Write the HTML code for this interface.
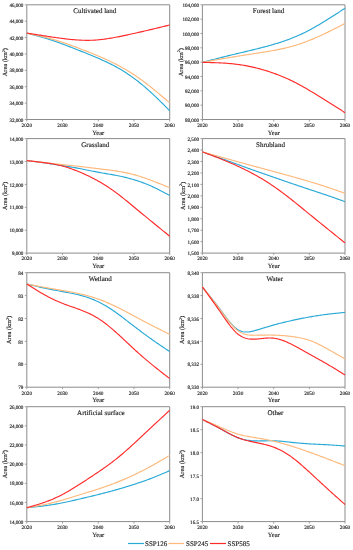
<!DOCTYPE html><html><head><meta charset="utf-8"><style>html,body{margin:0;padding:0;background:#fff;width:353px;height:550px;overflow:hidden}svg{display:block;filter:blur(0.35px)}</style></head><body>
<svg width="353" height="550" viewBox="0 0 353 550" stroke-linejoin="round" font-family='"Liberation Serif", serif'>
<rect width="353" height="550" fill="#fff"/>
<style>text{stroke:#222;stroke-width:0.15px;paint-order:stroke;text-rendering:geometricPrecision}</style>
<g style="will-change:transform">
<rect x="26.80" y="4.80" width="142.90" height="114.70" fill="none" stroke="#8c8c8c" stroke-width="1"/>
<line x1="24.80" y1="4.80" x2="26.80" y2="4.80" stroke="#8c8c8c" stroke-width="0.8"/>
<text x="23.40" y="6.90" font-size="5.1" text-anchor="end" fill="#222">46,000</text>
<line x1="24.80" y1="21.19" x2="26.80" y2="21.19" stroke="#8c8c8c" stroke-width="0.8"/>
<text x="23.40" y="23.29" font-size="5.1" text-anchor="end" fill="#222">44,000</text>
<line x1="24.80" y1="37.57" x2="26.80" y2="37.57" stroke="#8c8c8c" stroke-width="0.8"/>
<text x="23.40" y="39.67" font-size="5.1" text-anchor="end" fill="#222">42,000</text>
<line x1="24.80" y1="53.96" x2="26.80" y2="53.96" stroke="#8c8c8c" stroke-width="0.8"/>
<text x="23.40" y="56.06" font-size="5.1" text-anchor="end" fill="#222">40,000</text>
<line x1="24.80" y1="70.34" x2="26.80" y2="70.34" stroke="#8c8c8c" stroke-width="0.8"/>
<text x="23.40" y="72.44" font-size="5.1" text-anchor="end" fill="#222">38,000</text>
<line x1="24.80" y1="86.73" x2="26.80" y2="86.73" stroke="#8c8c8c" stroke-width="0.8"/>
<text x="23.40" y="88.83" font-size="5.1" text-anchor="end" fill="#222">36,000</text>
<line x1="24.80" y1="103.11" x2="26.80" y2="103.11" stroke="#8c8c8c" stroke-width="0.8"/>
<text x="23.40" y="105.21" font-size="5.1" text-anchor="end" fill="#222">34,000</text>
<line x1="24.80" y1="119.50" x2="26.80" y2="119.50" stroke="#8c8c8c" stroke-width="0.8"/>
<text x="23.40" y="121.60" font-size="5.1" text-anchor="end" fill="#222">32,000</text>
<line x1="26.80" y1="119.50" x2="26.80" y2="121.50" stroke="#8c8c8c" stroke-width="0.8"/>
<text x="26.80" y="126.80" font-size="5.2" text-anchor="middle" fill="#222">2020</text>
<line x1="62.52" y1="119.50" x2="62.52" y2="121.50" stroke="#8c8c8c" stroke-width="0.8"/>
<text x="62.52" y="126.80" font-size="5.2" text-anchor="middle" fill="#222">2030</text>
<line x1="98.25" y1="119.50" x2="98.25" y2="121.50" stroke="#8c8c8c" stroke-width="0.8"/>
<text x="98.25" y="126.80" font-size="5.2" text-anchor="middle" fill="#222">2040</text>
<line x1="133.97" y1="119.50" x2="133.97" y2="121.50" stroke="#8c8c8c" stroke-width="0.8"/>
<text x="133.97" y="126.80" font-size="5.2" text-anchor="middle" fill="#222">2050</text>
<line x1="169.70" y1="119.50" x2="169.70" y2="121.50" stroke="#8c8c8c" stroke-width="0.8"/>
<text x="169.70" y="126.80" font-size="5.2" text-anchor="middle" fill="#222">2060</text>
<text x="98.25" y="134.50" font-size="6.5" text-anchor="middle" fill="#222">Year</text>
<text transform="translate(7.20,62.15) rotate(-90)" font-size="6.3" text-anchor="middle" fill="#222">Area (km<tspan font-size="4" dy="-2.2">2</tspan><tspan dy="2.2">)</tspan></text>
<text x="94.75" y="12.90" font-size="7" text-anchor="middle" fill="#222">Cultivated land</text>
<path d="M26.80,33.08 L28.00,33.40 L29.20,33.71 L30.40,34.03 L31.60,34.35 L32.80,34.67 L34.01,34.99 L35.21,35.31 L36.41,35.64 L37.61,35.97 L38.81,36.30 L40.01,36.64 L41.21,36.98 L42.41,37.33 L43.61,37.68 L44.81,38.04 L46.01,38.41 L47.21,38.78 L48.42,39.16 L49.62,39.54 L50.82,39.93 L52.02,40.32 L53.22,40.72 L54.42,41.13 L55.62,41.54 L56.82,41.95 L58.02,42.37 L59.22,42.80 L60.42,43.23 L61.62,43.67 L62.83,44.11 L64.03,44.55 L65.23,45.00 L66.43,45.46 L67.63,45.92 L68.83,46.38 L70.03,46.84 L71.23,47.31 L72.43,47.78 L73.63,48.25 L74.83,48.73 L76.03,49.21 L77.24,49.68 L78.44,50.16 L79.64,50.64 L80.84,51.13 L82.04,51.61 L83.24,52.09 L84.44,52.57 L85.64,53.06 L86.84,53.55 L88.04,54.03 L89.24,54.52 L90.44,55.02 L91.65,55.51 L92.85,56.01 L94.05,56.51 L95.25,57.02 L96.45,57.53 L97.65,58.04 L98.85,58.56 L100.05,59.08 L101.25,59.61 L102.45,60.15 L103.65,60.69 L104.85,61.23 L106.06,61.79 L107.26,62.36 L108.46,62.93 L109.66,63.52 L110.86,64.11 L112.06,64.72 L113.26,65.34 L114.46,65.97 L115.66,66.62 L116.86,67.28 L118.06,67.96 L119.26,68.65 L120.47,69.35 L121.67,70.07 L122.87,70.81 L124.07,71.56 L125.27,72.32 L126.47,73.10 L127.67,73.90 L128.87,74.71 L130.07,75.53 L131.27,76.38 L132.47,77.23 L133.67,78.11 L134.88,79.00 L136.08,79.90 L137.28,80.82 L138.48,81.76 L139.68,82.71 L140.88,83.68 L142.08,84.67 L143.28,85.66 L144.48,86.68 L145.68,87.71 L146.88,88.75 L148.08,89.81 L149.29,90.88 L150.49,91.97 L151.69,93.07 L152.89,94.18 L154.09,95.31 L155.29,96.45 L156.49,97.60 L157.69,98.76 L158.89,99.93 L160.09,101.11 L161.29,102.30 L162.49,103.49 L163.70,104.69 L164.90,105.90 L166.10,107.11 L167.30,108.32 L168.50,109.53 L169.70,110.74" fill="none" stroke="#29a9d6" stroke-width="1.15" stroke-linejoin="round" stroke-linecap="butt"/>
<path d="M26.80,33.08 L28.00,33.34 L29.20,33.59 L30.40,33.85 L31.60,34.11 L32.80,34.37 L34.01,34.64 L35.21,34.90 L36.41,35.17 L37.61,35.44 L38.81,35.72 L40.01,35.99 L41.21,36.28 L42.41,36.57 L43.61,36.86 L44.81,37.16 L46.01,37.46 L47.21,37.77 L48.42,38.09 L49.62,38.41 L50.82,38.74 L52.02,39.08 L53.22,39.42 L54.42,39.77 L55.62,40.12 L56.82,40.48 L58.02,40.85 L59.22,41.23 L60.42,41.61 L61.62,42.00 L62.83,42.39 L64.03,42.80 L65.23,43.21 L66.43,43.62 L67.63,44.04 L68.83,44.47 L70.03,44.90 L71.23,45.34 L72.43,45.78 L73.63,46.23 L74.83,46.68 L76.03,47.14 L77.24,47.59 L78.44,48.05 L79.64,48.52 L80.84,48.98 L82.04,49.45 L83.24,49.92 L84.44,50.40 L85.64,50.87 L86.84,51.35 L88.04,51.83 L89.24,52.31 L90.44,52.80 L91.65,53.29 L92.85,53.78 L94.05,54.28 L95.25,54.77 L96.45,55.27 L97.65,55.78 L98.85,56.29 L100.05,56.80 L101.25,57.31 L102.45,57.83 L103.65,58.36 L104.85,58.89 L106.06,59.42 L107.26,59.97 L108.46,60.52 L109.66,61.08 L110.86,61.65 L112.06,62.22 L113.26,62.81 L114.46,63.40 L115.66,64.01 L116.86,64.63 L118.06,65.26 L119.26,65.90 L120.47,66.55 L121.67,67.22 L122.87,67.89 L124.07,68.58 L125.27,69.28 L126.47,70.00 L127.67,70.72 L128.87,71.46 L130.07,72.21 L131.27,72.97 L132.47,73.74 L133.67,74.53 L134.88,75.33 L136.08,76.15 L137.28,76.97 L138.48,77.81 L139.68,78.66 L140.88,79.52 L142.08,80.39 L143.28,81.28 L144.48,82.17 L145.68,83.08 L146.88,84.00 L148.08,84.93 L149.29,85.86 L150.49,86.81 L151.69,87.77 L152.89,88.73 L154.09,89.71 L155.29,90.69 L156.49,91.68 L157.69,92.68 L158.89,93.68 L160.09,94.69 L161.29,95.71 L162.49,96.73 L163.70,97.75 L164.90,98.77 L166.10,99.80 L167.30,100.83 L168.50,101.86 L169.70,102.90" fill="none" stroke="#fdb97c" stroke-width="1.15" stroke-linejoin="round" stroke-linecap="butt"/>
<path d="M26.80,33.10 L28.00,33.29 L29.20,33.48 L30.40,33.67 L31.60,33.86 L32.80,34.05 L34.01,34.24 L35.21,34.43 L36.41,34.61 L37.61,34.80 L38.81,34.99 L40.01,35.18 L41.21,35.37 L42.41,35.55 L43.61,35.74 L44.81,35.92 L46.01,36.11 L47.21,36.30 L48.42,36.48 L49.62,36.66 L50.82,36.84 L52.02,37.02 L53.22,37.20 L54.42,37.38 L55.62,37.55 L56.82,37.72 L58.02,37.89 L59.22,38.05 L60.42,38.21 L61.62,38.37 L62.83,38.52 L64.03,38.67 L65.23,38.82 L66.43,38.96 L67.63,39.09 L68.83,39.23 L70.03,39.35 L71.23,39.47 L72.43,39.58 L73.63,39.69 L74.83,39.79 L76.03,39.88 L77.24,39.96 L78.44,40.04 L79.64,40.10 L80.84,40.16 L82.04,40.21 L83.24,40.25 L84.44,40.29 L85.64,40.31 L86.84,40.32 L88.04,40.32 L89.24,40.31 L90.44,40.29 L91.65,40.25 L92.85,40.21 L94.05,40.15 L95.25,40.08 L96.45,39.99 L97.65,39.90 L98.85,39.79 L100.05,39.67 L101.25,39.54 L102.45,39.40 L103.65,39.25 L104.85,39.09 L106.06,38.92 L107.26,38.74 L108.46,38.55 L109.66,38.36 L110.86,38.16 L112.06,37.95 L113.26,37.73 L114.46,37.51 L115.66,37.29 L116.86,37.06 L118.06,36.82 L119.26,36.58 L120.47,36.34 L121.67,36.10 L122.87,35.85 L124.07,35.60 L125.27,35.34 L126.47,35.08 L127.67,34.82 L128.87,34.56 L130.07,34.30 L131.27,34.03 L132.47,33.77 L133.67,33.50 L134.88,33.23 L136.08,32.96 L137.28,32.69 L138.48,32.42 L139.68,32.14 L140.88,31.87 L142.08,31.59 L143.28,31.32 L144.48,31.04 L145.68,30.76 L146.88,30.48 L148.08,30.20 L149.29,29.92 L150.49,29.64 L151.69,29.36 L152.89,29.07 L154.09,28.78 L155.29,28.50 L156.49,28.21 L157.69,27.92 L158.89,27.63 L160.09,27.34 L161.29,27.05 L162.49,26.76 L163.70,26.47 L164.90,26.18 L166.10,25.89 L167.30,25.60 L168.50,25.30 L169.70,25.01" fill="none" stroke="#ff2b2b" stroke-width="1.15" stroke-linejoin="round" stroke-linecap="butt"/>
<rect x="202.40" y="4.80" width="142.60" height="114.70" fill="none" stroke="#8c8c8c" stroke-width="1"/>
<line x1="200.40" y1="4.80" x2="202.40" y2="4.80" stroke="#8c8c8c" stroke-width="0.8"/>
<text x="199.00" y="6.90" font-size="5.1" text-anchor="end" fill="#222">104,000</text>
<line x1="200.40" y1="19.14" x2="202.40" y2="19.14" stroke="#8c8c8c" stroke-width="0.8"/>
<text x="199.00" y="21.24" font-size="5.1" text-anchor="end" fill="#222">102,000</text>
<line x1="200.40" y1="33.48" x2="202.40" y2="33.48" stroke="#8c8c8c" stroke-width="0.8"/>
<text x="199.00" y="35.58" font-size="5.1" text-anchor="end" fill="#222">100,000</text>
<line x1="200.40" y1="47.81" x2="202.40" y2="47.81" stroke="#8c8c8c" stroke-width="0.8"/>
<text x="199.00" y="49.91" font-size="5.1" text-anchor="end" fill="#222">98,000</text>
<line x1="200.40" y1="62.15" x2="202.40" y2="62.15" stroke="#8c8c8c" stroke-width="0.8"/>
<text x="199.00" y="64.25" font-size="5.1" text-anchor="end" fill="#222">96,000</text>
<line x1="200.40" y1="76.49" x2="202.40" y2="76.49" stroke="#8c8c8c" stroke-width="0.8"/>
<text x="199.00" y="78.59" font-size="5.1" text-anchor="end" fill="#222">94,000</text>
<line x1="200.40" y1="90.83" x2="202.40" y2="90.83" stroke="#8c8c8c" stroke-width="0.8"/>
<text x="199.00" y="92.92" font-size="5.1" text-anchor="end" fill="#222">92,000</text>
<line x1="200.40" y1="105.16" x2="202.40" y2="105.16" stroke="#8c8c8c" stroke-width="0.8"/>
<text x="199.00" y="107.26" font-size="5.1" text-anchor="end" fill="#222">90,000</text>
<line x1="200.40" y1="119.50" x2="202.40" y2="119.50" stroke="#8c8c8c" stroke-width="0.8"/>
<text x="199.00" y="121.60" font-size="5.1" text-anchor="end" fill="#222">88,000</text>
<line x1="202.40" y1="119.50" x2="202.40" y2="121.50" stroke="#8c8c8c" stroke-width="0.8"/>
<text x="202.40" y="126.80" font-size="5.2" text-anchor="middle" fill="#222">2020</text>
<line x1="238.05" y1="119.50" x2="238.05" y2="121.50" stroke="#8c8c8c" stroke-width="0.8"/>
<text x="238.05" y="126.80" font-size="5.2" text-anchor="middle" fill="#222">2030</text>
<line x1="273.70" y1="119.50" x2="273.70" y2="121.50" stroke="#8c8c8c" stroke-width="0.8"/>
<text x="273.70" y="126.80" font-size="5.2" text-anchor="middle" fill="#222">2040</text>
<line x1="309.35" y1="119.50" x2="309.35" y2="121.50" stroke="#8c8c8c" stroke-width="0.8"/>
<text x="309.35" y="126.80" font-size="5.2" text-anchor="middle" fill="#222">2050</text>
<line x1="345.00" y1="119.50" x2="345.00" y2="121.50" stroke="#8c8c8c" stroke-width="0.8"/>
<text x="345.00" y="126.80" font-size="5.2" text-anchor="middle" fill="#222">2060</text>
<text x="273.70" y="134.50" font-size="6.5" text-anchor="middle" fill="#222">Year</text>
<text transform="translate(182.50,62.15) rotate(-90)" font-size="6.3" text-anchor="middle" fill="#222">Area (km<tspan font-size="4" dy="-2.2">2</tspan><tspan dy="2.2">)</tspan></text>
<text x="268.50" y="12.90" font-size="7" text-anchor="middle" fill="#222">Forest land</text>
<path d="M202.40,62.39 L203.60,62.08 L204.80,61.76 L205.99,61.44 L207.19,61.13 L208.39,60.81 L209.59,60.50 L210.79,60.18 L211.99,59.87 L213.18,59.56 L214.38,59.25 L215.58,58.94 L216.78,58.63 L217.98,58.32 L219.18,58.02 L220.37,57.71 L221.57,57.41 L222.77,57.11 L223.97,56.82 L225.17,56.52 L226.37,56.23 L227.56,55.93 L228.76,55.64 L229.96,55.35 L231.16,55.06 L232.36,54.77 L233.56,54.48 L234.75,54.20 L235.95,53.91 L237.15,53.62 L238.35,53.34 L239.55,53.05 L240.75,52.77 L241.94,52.48 L243.14,52.19 L244.34,51.91 L245.54,51.62 L246.74,51.33 L247.94,51.04 L249.13,50.75 L250.33,50.46 L251.53,50.17 L252.73,49.88 L253.93,49.58 L255.13,49.29 L256.32,48.99 L257.52,48.69 L258.72,48.39 L259.92,48.08 L261.12,47.78 L262.32,47.47 L263.51,47.16 L264.71,46.84 L265.91,46.52 L267.11,46.20 L268.31,45.87 L269.51,45.54 L270.70,45.21 L271.90,44.87 L273.10,44.52 L274.30,44.17 L275.50,43.82 L276.70,43.45 L277.89,43.09 L279.09,42.71 L280.29,42.33 L281.49,41.94 L282.69,41.55 L283.89,41.14 L285.08,40.73 L286.28,40.31 L287.48,39.88 L288.68,39.44 L289.88,38.99 L291.08,38.53 L292.27,38.06 L293.47,37.57 L294.67,37.08 L295.87,36.58 L297.07,36.06 L298.27,35.54 L299.46,35.00 L300.66,34.45 L301.86,33.89 L303.06,33.32 L304.26,32.74 L305.46,32.15 L306.65,31.54 L307.85,30.93 L309.05,30.30 L310.25,29.66 L311.45,29.01 L312.65,28.35 L313.84,27.68 L315.04,27.01 L316.24,26.32 L317.44,25.62 L318.64,24.92 L319.84,24.20 L321.03,23.49 L322.23,22.76 L323.43,22.03 L324.63,21.29 L325.83,20.55 L327.03,19.80 L328.22,19.05 L329.42,18.29 L330.62,17.53 L331.82,16.77 L333.02,16.01 L334.22,15.24 L335.41,14.47 L336.61,13.69 L337.81,12.92 L339.01,12.14 L340.21,11.37 L341.41,10.59 L342.60,9.81 L343.80,9.03 L345.00,8.25" fill="none" stroke="#29a9d6" stroke-width="1.15" stroke-linejoin="round" stroke-linecap="butt"/>
<path d="M202.40,62.39 L203.60,62.17 L204.80,61.95 L205.99,61.73 L207.19,61.50 L208.39,61.28 L209.59,61.06 L210.79,60.84 L211.99,60.62 L213.18,60.40 L214.38,60.18 L215.58,59.96 L216.78,59.75 L217.98,59.53 L219.18,59.32 L220.37,59.11 L221.57,58.90 L222.77,58.69 L223.97,58.48 L225.17,58.27 L226.37,58.07 L227.56,57.86 L228.76,57.66 L229.96,57.46 L231.16,57.26 L232.36,57.06 L233.56,56.87 L234.75,56.67 L235.95,56.47 L237.15,56.28 L238.35,56.09 L239.55,55.90 L240.75,55.71 L241.94,55.52 L243.14,55.33 L244.34,55.14 L245.54,54.95 L246.74,54.76 L247.94,54.58 L249.13,54.39 L250.33,54.20 L251.53,54.02 L252.73,53.83 L253.93,53.65 L255.13,53.46 L256.32,53.28 L257.52,53.09 L258.72,52.91 L259.92,52.72 L261.12,52.54 L262.32,52.35 L263.51,52.16 L264.71,51.97 L265.91,51.77 L267.11,51.57 L268.31,51.37 L269.51,51.17 L270.70,50.96 L271.90,50.75 L273.10,50.54 L274.30,50.32 L275.50,50.09 L276.70,49.86 L277.89,49.63 L279.09,49.38 L280.29,49.14 L281.49,48.88 L282.69,48.62 L283.89,48.35 L285.08,48.07 L286.28,47.79 L287.48,47.49 L288.68,47.19 L289.88,46.88 L291.08,46.56 L292.27,46.23 L293.47,45.89 L294.67,45.54 L295.87,45.18 L297.07,44.81 L298.27,44.43 L299.46,44.04 L300.66,43.64 L301.86,43.23 L303.06,42.81 L304.26,42.38 L305.46,41.94 L306.65,41.50 L307.85,41.04 L309.05,40.57 L310.25,40.09 L311.45,39.61 L312.65,39.11 L313.84,38.60 L315.04,38.09 L316.24,37.57 L317.44,37.04 L318.64,36.50 L319.84,35.96 L321.03,35.41 L322.23,34.85 L323.43,34.29 L324.63,33.72 L325.83,33.14 L327.03,32.56 L328.22,31.98 L329.42,31.39 L330.62,30.80 L331.82,30.20 L333.02,29.60 L334.22,28.99 L335.41,28.38 L336.61,27.77 L337.81,27.16 L339.01,26.55 L340.21,25.93 L341.41,25.31 L342.60,24.69 L343.80,24.07 L345.00,23.45" fill="none" stroke="#fdb97c" stroke-width="1.15" stroke-linejoin="round" stroke-linecap="butt"/>
<path d="M202.40,62.38 L203.60,62.41 L204.80,62.43 L205.99,62.45 L207.19,62.48 L208.39,62.50 L209.59,62.53 L210.79,62.56 L211.99,62.59 L213.18,62.62 L214.38,62.66 L215.58,62.70 L216.78,62.75 L217.98,62.80 L219.18,62.85 L220.37,62.91 L221.57,62.97 L222.77,63.04 L223.97,63.11 L225.17,63.19 L226.37,63.28 L227.56,63.37 L228.76,63.47 L229.96,63.57 L231.16,63.68 L232.36,63.80 L233.56,63.93 L234.75,64.06 L235.95,64.21 L237.15,64.36 L238.35,64.52 L239.55,64.68 L240.75,64.86 L241.94,65.04 L243.14,65.24 L244.34,65.44 L245.54,65.65 L246.74,65.87 L247.94,66.10 L249.13,66.34 L250.33,66.59 L251.53,66.85 L252.73,67.11 L253.93,67.39 L255.13,67.67 L256.32,67.97 L257.52,68.27 L258.72,68.58 L259.92,68.91 L261.12,69.24 L262.32,69.58 L263.51,69.93 L264.71,70.29 L265.91,70.66 L267.11,71.03 L268.31,71.42 L269.51,71.81 L270.70,72.21 L271.90,72.62 L273.10,73.04 L274.30,73.47 L275.50,73.91 L276.70,74.35 L277.89,74.80 L279.09,75.26 L280.29,75.73 L281.49,76.21 L282.69,76.71 L283.89,77.21 L285.08,77.72 L286.28,78.24 L287.48,78.78 L288.68,79.32 L289.88,79.88 L291.08,80.45 L292.27,81.03 L293.47,81.63 L294.67,82.23 L295.87,82.85 L297.07,83.48 L298.27,84.12 L299.46,84.76 L300.66,85.42 L301.86,86.08 L303.06,86.76 L304.26,87.43 L305.46,88.12 L306.65,88.81 L307.85,89.51 L309.05,90.21 L310.25,90.92 L311.45,91.63 L312.65,92.34 L313.84,93.06 L315.04,93.78 L316.24,94.50 L317.44,95.23 L318.64,95.96 L319.84,96.70 L321.03,97.44 L322.23,98.18 L323.43,98.92 L324.63,99.67 L325.83,100.42 L327.03,101.17 L328.22,101.93 L329.42,102.68 L330.62,103.44 L331.82,104.21 L333.02,104.97 L334.22,105.74 L335.41,106.50 L336.61,107.27 L337.81,108.04 L339.01,108.81 L340.21,109.58 L341.41,110.35 L342.60,111.13 L343.80,111.90 L345.00,112.67" fill="none" stroke="#ff2b2b" stroke-width="1.15" stroke-linejoin="round" stroke-linecap="butt"/>
<rect x="26.80" y="138.60" width="142.90" height="114.50" fill="none" stroke="#8c8c8c" stroke-width="1"/>
<line x1="24.80" y1="138.60" x2="26.80" y2="138.60" stroke="#8c8c8c" stroke-width="0.8"/>
<text x="23.40" y="140.70" font-size="5.1" text-anchor="end" fill="#222">14,000</text>
<line x1="24.80" y1="161.50" x2="26.80" y2="161.50" stroke="#8c8c8c" stroke-width="0.8"/>
<text x="23.40" y="163.60" font-size="5.1" text-anchor="end" fill="#222">13,000</text>
<line x1="24.80" y1="184.40" x2="26.80" y2="184.40" stroke="#8c8c8c" stroke-width="0.8"/>
<text x="23.40" y="186.50" font-size="5.1" text-anchor="end" fill="#222">12,000</text>
<line x1="24.80" y1="207.30" x2="26.80" y2="207.30" stroke="#8c8c8c" stroke-width="0.8"/>
<text x="23.40" y="209.40" font-size="5.1" text-anchor="end" fill="#222">11,000</text>
<line x1="24.80" y1="230.20" x2="26.80" y2="230.20" stroke="#8c8c8c" stroke-width="0.8"/>
<text x="23.40" y="232.30" font-size="5.1" text-anchor="end" fill="#222">10,000</text>
<line x1="24.80" y1="253.10" x2="26.80" y2="253.10" stroke="#8c8c8c" stroke-width="0.8"/>
<text x="23.40" y="255.20" font-size="5.1" text-anchor="end" fill="#222">9,000</text>
<line x1="26.80" y1="253.10" x2="26.80" y2="255.10" stroke="#8c8c8c" stroke-width="0.8"/>
<text x="26.80" y="260.40" font-size="5.2" text-anchor="middle" fill="#222">2020</text>
<line x1="62.52" y1="253.10" x2="62.52" y2="255.10" stroke="#8c8c8c" stroke-width="0.8"/>
<text x="62.52" y="260.40" font-size="5.2" text-anchor="middle" fill="#222">2030</text>
<line x1="98.25" y1="253.10" x2="98.25" y2="255.10" stroke="#8c8c8c" stroke-width="0.8"/>
<text x="98.25" y="260.40" font-size="5.2" text-anchor="middle" fill="#222">2040</text>
<line x1="133.97" y1="253.10" x2="133.97" y2="255.10" stroke="#8c8c8c" stroke-width="0.8"/>
<text x="133.97" y="260.40" font-size="5.2" text-anchor="middle" fill="#222">2050</text>
<line x1="169.70" y1="253.10" x2="169.70" y2="255.10" stroke="#8c8c8c" stroke-width="0.8"/>
<text x="169.70" y="260.40" font-size="5.2" text-anchor="middle" fill="#222">2060</text>
<text x="98.25" y="268.10" font-size="6.5" text-anchor="middle" fill="#222">Year</text>
<text transform="translate(7.10,195.85) rotate(-90)" font-size="6.3" text-anchor="middle" fill="#222">Area (km<tspan font-size="4" dy="-2.2">2</tspan><tspan dy="2.2">)</tspan></text>
<text x="95.30" y="146.70" font-size="7" text-anchor="middle" fill="#222">Grassland</text>
<path d="M26.80,160.60 L28.00,160.74 L29.20,160.89 L30.40,161.03 L31.60,161.18 L32.80,161.33 L34.01,161.48 L35.21,161.63 L36.41,161.78 L37.61,161.93 L38.81,162.09 L40.01,162.25 L41.21,162.41 L42.41,162.57 L43.61,162.74 L44.81,162.91 L46.01,163.08 L47.21,163.26 L48.42,163.44 L49.62,163.63 L50.82,163.81 L52.02,164.00 L53.22,164.19 L54.42,164.38 L55.62,164.57 L56.82,164.76 L58.02,164.96 L59.22,165.15 L60.42,165.34 L61.62,165.54 L62.83,165.73 L64.03,165.92 L65.23,166.12 L66.43,166.31 L67.63,166.50 L68.83,166.69 L70.03,166.89 L71.23,167.09 L72.43,167.29 L73.63,167.49 L74.83,167.69 L76.03,167.90 L77.24,168.11 L78.44,168.33 L79.64,168.55 L80.84,168.78 L82.04,169.01 L83.24,169.24 L84.44,169.48 L85.64,169.72 L86.84,169.96 L88.04,170.21 L89.24,170.46 L90.44,170.70 L91.65,170.95 L92.85,171.19 L94.05,171.43 L95.25,171.67 L96.45,171.90 L97.65,172.13 L98.85,172.35 L100.05,172.57 L101.25,172.78 L102.45,172.99 L103.65,173.20 L104.85,173.41 L106.06,173.61 L107.26,173.82 L108.46,174.02 L109.66,174.23 L110.86,174.43 L112.06,174.65 L113.26,174.86 L114.46,175.08 L115.66,175.31 L116.86,175.54 L118.06,175.78 L119.26,176.02 L120.47,176.27 L121.67,176.53 L122.87,176.80 L124.07,177.08 L125.27,177.36 L126.47,177.66 L127.67,177.96 L128.87,178.27 L130.07,178.60 L131.27,178.93 L132.47,179.27 L133.67,179.62 L134.88,179.99 L136.08,180.36 L137.28,180.75 L138.48,181.14 L139.68,181.55 L140.88,181.97 L142.08,182.41 L143.28,182.85 L144.48,183.31 L145.68,183.78 L146.88,184.26 L148.08,184.75 L149.29,185.26 L150.49,185.78 L151.69,186.32 L152.89,186.86 L154.09,187.43 L155.29,188.00 L156.49,188.58 L157.69,189.18 L158.89,189.78 L160.09,190.39 L161.29,191.01 L162.49,191.64 L163.70,192.27 L164.90,192.90 L166.10,193.54 L167.30,194.19 L168.50,194.83 L169.70,195.47" fill="none" stroke="#29a9d6" stroke-width="1.15" stroke-linejoin="round" stroke-linecap="butt"/>
<path d="M26.80,160.60 L28.00,160.75 L29.20,160.90 L30.40,161.05 L31.60,161.20 L32.80,161.34 L34.01,161.49 L35.21,161.64 L36.41,161.78 L37.61,161.92 L38.81,162.07 L40.01,162.21 L41.21,162.34 L42.41,162.48 L43.61,162.61 L44.81,162.75 L46.01,162.88 L47.21,163.00 L48.42,163.13 L49.62,163.25 L50.82,163.37 L52.02,163.49 L53.22,163.61 L54.42,163.73 L55.62,163.85 L56.82,163.97 L58.02,164.09 L59.22,164.21 L60.42,164.33 L61.62,164.45 L62.83,164.58 L64.03,164.70 L65.23,164.82 L66.43,164.95 L67.63,165.08 L68.83,165.21 L70.03,165.34 L71.23,165.47 L72.43,165.61 L73.63,165.74 L74.83,165.88 L76.03,166.01 L77.24,166.15 L78.44,166.29 L79.64,166.43 L80.84,166.58 L82.04,166.72 L83.24,166.86 L84.44,167.01 L85.64,167.16 L86.84,167.30 L88.04,167.45 L89.24,167.60 L90.44,167.74 L91.65,167.89 L92.85,168.04 L94.05,168.19 L95.25,168.33 L96.45,168.48 L97.65,168.63 L98.85,168.77 L100.05,168.91 L101.25,169.06 L102.45,169.20 L103.65,169.35 L104.85,169.49 L106.06,169.64 L107.26,169.79 L108.46,169.94 L109.66,170.10 L110.86,170.26 L112.06,170.42 L113.26,170.59 L114.46,170.76 L115.66,170.94 L116.86,171.12 L118.06,171.31 L119.26,171.51 L120.47,171.71 L121.67,171.93 L122.87,172.15 L124.07,172.38 L125.27,172.61 L126.47,172.86 L127.67,173.12 L128.87,173.39 L130.07,173.67 L131.27,173.96 L132.47,174.26 L133.67,174.57 L134.88,174.90 L136.08,175.23 L137.28,175.58 L138.48,175.94 L139.68,176.32 L140.88,176.70 L142.08,177.09 L143.28,177.49 L144.48,177.90 L145.68,178.32 L146.88,178.75 L148.08,179.18 L149.29,179.62 L150.49,180.07 L151.69,180.53 L152.89,180.98 L154.09,181.45 L155.29,181.92 L156.49,182.39 L157.69,182.87 L158.89,183.35 L160.09,183.84 L161.29,184.32 L162.49,184.81 L163.70,185.31 L164.90,185.80 L166.10,186.30 L167.30,186.79 L168.50,187.29 L169.70,187.79" fill="none" stroke="#fdb97c" stroke-width="1.15" stroke-linejoin="round" stroke-linecap="butt"/>
<path d="M26.80,160.60 L28.00,160.73 L29.20,160.86 L30.40,160.99 L31.60,161.13 L32.80,161.26 L34.01,161.40 L35.21,161.53 L36.41,161.67 L37.61,161.81 L38.81,161.96 L40.01,162.10 L41.21,162.25 L42.41,162.41 L43.61,162.56 L44.81,162.72 L46.01,162.89 L47.21,163.06 L48.42,163.23 L49.62,163.41 L50.82,163.60 L52.02,163.80 L53.22,164.01 L54.42,164.23 L55.62,164.46 L56.82,164.70 L58.02,164.95 L59.22,165.22 L60.42,165.50 L61.62,165.80 L62.83,166.12 L64.03,166.45 L65.23,166.80 L66.43,167.16 L67.63,167.54 L68.83,167.93 L70.03,168.34 L71.23,168.76 L72.43,169.19 L73.63,169.64 L74.83,170.09 L76.03,170.56 L77.24,171.04 L78.44,171.53 L79.64,172.03 L80.84,172.54 L82.04,173.05 L83.24,173.58 L84.44,174.11 L85.64,174.66 L86.84,175.21 L88.04,175.77 L89.24,176.35 L90.44,176.94 L91.65,177.53 L92.85,178.15 L94.05,178.77 L95.25,179.40 L96.45,180.05 L97.65,180.71 L98.85,181.39 L100.05,182.08 L101.25,182.78 L102.45,183.50 L103.65,184.23 L104.85,184.98 L106.06,185.74 L107.26,186.52 L108.46,187.31 L109.66,188.11 L110.86,188.93 L112.06,189.77 L113.26,190.61 L114.46,191.48 L115.66,192.36 L116.86,193.25 L118.06,194.16 L119.26,195.08 L120.47,196.01 L121.67,196.96 L122.87,197.91 L124.07,198.87 L125.27,199.84 L126.47,200.82 L127.67,201.81 L128.87,202.79 L130.07,203.79 L131.27,204.78 L132.47,205.77 L133.67,206.77 L134.88,207.76 L136.08,208.76 L137.28,209.75 L138.48,210.74 L139.68,211.73 L140.88,212.72 L142.08,213.71 L143.28,214.69 L144.48,215.68 L145.68,216.66 L146.88,217.65 L148.08,218.63 L149.29,219.61 L150.49,220.59 L151.69,221.57 L152.89,222.55 L154.09,223.53 L155.29,224.51 L156.49,225.48 L157.69,226.46 L158.89,227.44 L160.09,228.41 L161.29,229.39 L162.49,230.36 L163.70,231.33 L164.90,232.31 L166.10,233.28 L167.30,234.26 L168.50,235.23 L169.70,236.20" fill="none" stroke="#ff2b2b" stroke-width="1.15" stroke-linejoin="round" stroke-linecap="butt"/>
<rect x="202.40" y="138.60" width="142.60" height="114.50" fill="none" stroke="#8c8c8c" stroke-width="1"/>
<line x1="200.40" y1="138.60" x2="202.40" y2="138.60" stroke="#8c8c8c" stroke-width="0.8"/>
<text x="199.00" y="140.70" font-size="5.1" text-anchor="end" fill="#222">2,500</text>
<line x1="200.40" y1="150.05" x2="202.40" y2="150.05" stroke="#8c8c8c" stroke-width="0.8"/>
<text x="199.00" y="152.15" font-size="5.1" text-anchor="end" fill="#222">2,400</text>
<line x1="200.40" y1="161.50" x2="202.40" y2="161.50" stroke="#8c8c8c" stroke-width="0.8"/>
<text x="199.00" y="163.60" font-size="5.1" text-anchor="end" fill="#222">2,300</text>
<line x1="200.40" y1="172.95" x2="202.40" y2="172.95" stroke="#8c8c8c" stroke-width="0.8"/>
<text x="199.00" y="175.05" font-size="5.1" text-anchor="end" fill="#222">2,200</text>
<line x1="200.40" y1="184.40" x2="202.40" y2="184.40" stroke="#8c8c8c" stroke-width="0.8"/>
<text x="199.00" y="186.50" font-size="5.1" text-anchor="end" fill="#222">2,100</text>
<line x1="200.40" y1="195.85" x2="202.40" y2="195.85" stroke="#8c8c8c" stroke-width="0.8"/>
<text x="199.00" y="197.95" font-size="5.1" text-anchor="end" fill="#222">2,000</text>
<line x1="200.40" y1="207.30" x2="202.40" y2="207.30" stroke="#8c8c8c" stroke-width="0.8"/>
<text x="199.00" y="209.40" font-size="5.1" text-anchor="end" fill="#222">1,900</text>
<line x1="200.40" y1="218.75" x2="202.40" y2="218.75" stroke="#8c8c8c" stroke-width="0.8"/>
<text x="199.00" y="220.85" font-size="5.1" text-anchor="end" fill="#222">1,800</text>
<line x1="200.40" y1="230.20" x2="202.40" y2="230.20" stroke="#8c8c8c" stroke-width="0.8"/>
<text x="199.00" y="232.30" font-size="5.1" text-anchor="end" fill="#222">1,700</text>
<line x1="200.40" y1="241.65" x2="202.40" y2="241.65" stroke="#8c8c8c" stroke-width="0.8"/>
<text x="199.00" y="243.75" font-size="5.1" text-anchor="end" fill="#222">1,600</text>
<line x1="200.40" y1="253.10" x2="202.40" y2="253.10" stroke="#8c8c8c" stroke-width="0.8"/>
<text x="199.00" y="255.20" font-size="5.1" text-anchor="end" fill="#222">1,500</text>
<line x1="202.40" y1="253.10" x2="202.40" y2="255.10" stroke="#8c8c8c" stroke-width="0.8"/>
<text x="202.40" y="260.40" font-size="5.2" text-anchor="middle" fill="#222">2020</text>
<line x1="238.05" y1="253.10" x2="238.05" y2="255.10" stroke="#8c8c8c" stroke-width="0.8"/>
<text x="238.05" y="260.40" font-size="5.2" text-anchor="middle" fill="#222">2030</text>
<line x1="273.70" y1="253.10" x2="273.70" y2="255.10" stroke="#8c8c8c" stroke-width="0.8"/>
<text x="273.70" y="260.40" font-size="5.2" text-anchor="middle" fill="#222">2040</text>
<line x1="309.35" y1="253.10" x2="309.35" y2="255.10" stroke="#8c8c8c" stroke-width="0.8"/>
<text x="309.35" y="260.40" font-size="5.2" text-anchor="middle" fill="#222">2050</text>
<line x1="345.00" y1="253.10" x2="345.00" y2="255.10" stroke="#8c8c8c" stroke-width="0.8"/>
<text x="345.00" y="260.40" font-size="5.2" text-anchor="middle" fill="#222">2060</text>
<text x="273.70" y="268.10" font-size="6.5" text-anchor="middle" fill="#222">Year</text>
<text transform="translate(184.60,195.85) rotate(-90)" font-size="6.3" text-anchor="middle" fill="#222">Area (km<tspan font-size="4" dy="-2.2">2</tspan><tspan dy="2.2">)</tspan></text>
<text x="270.50" y="146.70" font-size="7" text-anchor="middle" fill="#222">Shrubland</text>
<path d="M202.40,151.89 L203.60,152.31 L204.80,152.72 L205.99,153.13 L207.19,153.54 L208.39,153.96 L209.59,154.37 L210.79,154.79 L211.99,155.20 L213.18,155.62 L214.38,156.04 L215.58,156.46 L216.78,156.88 L217.98,157.30 L219.18,157.73 L220.37,158.16 L221.57,158.58 L222.77,159.02 L223.97,159.45 L225.17,159.88 L226.37,160.32 L227.56,160.75 L228.76,161.19 L229.96,161.63 L231.16,162.07 L232.36,162.51 L233.56,162.95 L234.75,163.39 L235.95,163.83 L237.15,164.27 L238.35,164.70 L239.55,165.14 L240.75,165.58 L241.94,166.02 L243.14,166.46 L244.34,166.89 L245.54,167.33 L246.74,167.76 L247.94,168.20 L249.13,168.63 L250.33,169.06 L251.53,169.49 L252.73,169.92 L253.93,170.35 L255.13,170.77 L256.32,171.20 L257.52,171.62 L258.72,172.05 L259.92,172.47 L261.12,172.89 L262.32,173.31 L263.51,173.73 L264.71,174.14 L265.91,174.56 L267.11,174.98 L268.31,175.39 L269.51,175.81 L270.70,176.23 L271.90,176.64 L273.10,177.06 L274.30,177.47 L275.50,177.89 L276.70,178.30 L277.89,178.72 L279.09,179.13 L280.29,179.55 L281.49,179.96 L282.69,180.38 L283.89,180.79 L285.08,181.20 L286.28,181.62 L287.48,182.03 L288.68,182.44 L289.88,182.85 L291.08,183.26 L292.27,183.67 L293.47,184.08 L294.67,184.49 L295.87,184.89 L297.07,185.30 L298.27,185.70 L299.46,186.11 L300.66,186.51 L301.86,186.91 L303.06,187.31 L304.26,187.72 L305.46,188.12 L306.65,188.52 L307.85,188.91 L309.05,189.31 L310.25,189.71 L311.45,190.11 L312.65,190.50 L313.84,190.90 L315.04,191.30 L316.24,191.69 L317.44,192.09 L318.64,192.49 L319.84,192.89 L321.03,193.29 L322.23,193.69 L323.43,194.10 L324.63,194.50 L325.83,194.91 L327.03,195.32 L328.22,195.73 L329.42,196.15 L330.62,196.56 L331.82,196.98 L333.02,197.40 L334.22,197.82 L335.41,198.25 L336.61,198.67 L337.81,199.10 L339.01,199.53 L340.21,199.96 L341.41,200.38 L342.60,200.81 L343.80,201.24 L345.00,201.67" fill="none" stroke="#29a9d6" stroke-width="1.15" stroke-linejoin="round" stroke-linecap="butt"/>
<path d="M202.40,151.90 L203.60,152.23 L204.80,152.56 L205.99,152.90 L207.19,153.23 L208.39,153.56 L209.59,153.89 L210.79,154.23 L211.99,154.56 L213.18,154.89 L214.38,155.23 L215.58,155.56 L216.78,155.89 L217.98,156.23 L219.18,156.56 L220.37,156.89 L221.57,157.23 L222.77,157.56 L223.97,157.90 L225.17,158.23 L226.37,158.57 L227.56,158.90 L228.76,159.24 L229.96,159.57 L231.16,159.90 L232.36,160.24 L233.56,160.57 L234.75,160.91 L235.95,161.24 L237.15,161.57 L238.35,161.91 L239.55,162.24 L240.75,162.57 L241.94,162.90 L243.14,163.23 L244.34,163.56 L245.54,163.89 L246.74,164.22 L247.94,164.55 L249.13,164.88 L250.33,165.21 L251.53,165.54 L252.73,165.87 L253.93,166.19 L255.13,166.52 L256.32,166.84 L257.52,167.17 L258.72,167.49 L259.92,167.82 L261.12,168.14 L262.32,168.47 L263.51,168.79 L264.71,169.11 L265.91,169.44 L267.11,169.76 L268.31,170.08 L269.51,170.41 L270.70,170.73 L271.90,171.05 L273.10,171.38 L274.30,171.70 L275.50,172.03 L276.70,172.35 L277.89,172.68 L279.09,173.00 L280.29,173.33 L281.49,173.66 L282.69,173.99 L283.89,174.32 L285.08,174.65 L286.28,174.98 L287.48,175.31 L288.68,175.64 L289.88,175.97 L291.08,176.31 L292.27,176.64 L293.47,176.98 L294.67,177.31 L295.87,177.65 L297.07,177.99 L298.27,178.33 L299.46,178.67 L300.66,179.01 L301.86,179.36 L303.06,179.70 L304.26,180.05 L305.46,180.40 L306.65,180.75 L307.85,181.10 L309.05,181.46 L310.25,181.82 L311.45,182.18 L312.65,182.54 L313.84,182.91 L315.04,183.27 L316.24,183.64 L317.44,184.02 L318.64,184.39 L319.84,184.77 L321.03,185.15 L322.23,185.53 L323.43,185.92 L324.63,186.31 L325.83,186.70 L327.03,187.10 L328.22,187.49 L329.42,187.89 L330.62,188.30 L331.82,188.70 L333.02,189.11 L334.22,189.52 L335.41,189.93 L336.61,190.35 L337.81,190.76 L339.01,191.18 L340.21,191.59 L341.41,192.01 L342.60,192.43 L343.80,192.85 L345.00,193.27" fill="none" stroke="#fdb97c" stroke-width="1.15" stroke-linejoin="round" stroke-linecap="butt"/>
<path d="M202.40,151.89 L203.60,152.33 L204.80,152.78 L205.99,153.22 L207.19,153.67 L208.39,154.12 L209.59,154.57 L210.79,155.02 L211.99,155.47 L213.18,155.93 L214.38,156.39 L215.58,156.85 L216.78,157.31 L217.98,157.78 L219.18,158.25 L220.37,158.73 L221.57,159.21 L222.77,159.69 L223.97,160.18 L225.17,160.68 L226.37,161.17 L227.56,161.68 L228.76,162.19 L229.96,162.70 L231.16,163.22 L232.36,163.74 L233.56,164.27 L234.75,164.81 L235.95,165.35 L237.15,165.90 L238.35,166.45 L239.55,167.01 L240.75,167.57 L241.94,168.15 L243.14,168.73 L244.34,169.31 L245.54,169.90 L246.74,170.50 L247.94,171.11 L249.13,171.73 L250.33,172.35 L251.53,172.98 L252.73,173.62 L253.93,174.27 L255.13,174.93 L256.32,175.60 L257.52,176.27 L258.72,176.96 L259.92,177.65 L261.12,178.36 L262.32,179.07 L263.51,179.80 L264.71,180.53 L265.91,181.28 L267.11,182.04 L268.31,182.80 L269.51,183.58 L270.70,184.37 L271.90,185.17 L273.10,185.98 L274.30,186.80 L275.50,187.63 L276.70,188.48 L277.89,189.33 L279.09,190.20 L280.29,191.08 L281.49,191.96 L282.69,192.85 L283.89,193.75 L285.08,194.66 L286.28,195.58 L287.48,196.50 L288.68,197.43 L289.88,198.37 L291.08,199.31 L292.27,200.26 L293.47,201.21 L294.67,202.17 L295.87,203.13 L297.07,204.09 L298.27,205.06 L299.46,206.03 L300.66,207.00 L301.86,207.98 L303.06,208.96 L304.26,209.93 L305.46,210.91 L306.65,211.89 L307.85,212.87 L309.05,213.85 L310.25,214.83 L311.45,215.81 L312.65,216.78 L313.84,217.76 L315.04,218.73 L316.24,219.71 L317.44,220.68 L318.64,221.66 L319.84,222.63 L321.03,223.60 L322.23,224.57 L323.43,225.54 L324.63,226.51 L325.83,227.48 L327.03,228.44 L328.22,229.41 L329.42,230.38 L330.62,231.34 L331.82,232.31 L333.02,233.28 L334.22,234.24 L335.41,235.20 L336.61,236.17 L337.81,237.13 L339.01,238.09 L340.21,239.06 L341.41,240.02 L342.60,240.98 L343.80,241.94 L345.00,242.91" fill="none" stroke="#ff2b2b" stroke-width="1.15" stroke-linejoin="round" stroke-linecap="butt"/>
<rect x="26.80" y="272.70" width="142.90" height="114.50" fill="none" stroke="#8c8c8c" stroke-width="1"/>
<line x1="24.80" y1="272.70" x2="26.80" y2="272.70" stroke="#8c8c8c" stroke-width="0.8"/>
<text x="23.40" y="274.80" font-size="5.1" text-anchor="end" fill="#222">84</text>
<line x1="24.80" y1="295.60" x2="26.80" y2="295.60" stroke="#8c8c8c" stroke-width="0.8"/>
<text x="23.40" y="297.70" font-size="5.1" text-anchor="end" fill="#222">83</text>
<line x1="24.80" y1="318.50" x2="26.80" y2="318.50" stroke="#8c8c8c" stroke-width="0.8"/>
<text x="23.40" y="320.60" font-size="5.1" text-anchor="end" fill="#222">82</text>
<line x1="24.80" y1="341.40" x2="26.80" y2="341.40" stroke="#8c8c8c" stroke-width="0.8"/>
<text x="23.40" y="343.50" font-size="5.1" text-anchor="end" fill="#222">81</text>
<line x1="24.80" y1="364.30" x2="26.80" y2="364.30" stroke="#8c8c8c" stroke-width="0.8"/>
<text x="23.40" y="366.40" font-size="5.1" text-anchor="end" fill="#222">80</text>
<line x1="24.80" y1="387.20" x2="26.80" y2="387.20" stroke="#8c8c8c" stroke-width="0.8"/>
<text x="23.40" y="389.30" font-size="5.1" text-anchor="end" fill="#222">79</text>
<line x1="26.80" y1="387.20" x2="26.80" y2="389.20" stroke="#8c8c8c" stroke-width="0.8"/>
<text x="26.80" y="394.50" font-size="5.2" text-anchor="middle" fill="#222">2020</text>
<line x1="62.52" y1="387.20" x2="62.52" y2="389.20" stroke="#8c8c8c" stroke-width="0.8"/>
<text x="62.52" y="394.50" font-size="5.2" text-anchor="middle" fill="#222">2030</text>
<line x1="98.25" y1="387.20" x2="98.25" y2="389.20" stroke="#8c8c8c" stroke-width="0.8"/>
<text x="98.25" y="394.50" font-size="5.2" text-anchor="middle" fill="#222">2040</text>
<line x1="133.97" y1="387.20" x2="133.97" y2="389.20" stroke="#8c8c8c" stroke-width="0.8"/>
<text x="133.97" y="394.50" font-size="5.2" text-anchor="middle" fill="#222">2050</text>
<line x1="169.70" y1="387.20" x2="169.70" y2="389.20" stroke="#8c8c8c" stroke-width="0.8"/>
<text x="169.70" y="394.50" font-size="5.2" text-anchor="middle" fill="#222">2060</text>
<text x="98.25" y="402.20" font-size="6.5" text-anchor="middle" fill="#222">Year</text>
<text transform="translate(11.20,329.95) rotate(-90)" font-size="6.3" text-anchor="middle" fill="#222">Area (km<tspan font-size="4" dy="-2.2">2</tspan><tspan dy="2.2">)</tspan></text>
<text x="100.25" y="280.80" font-size="7" text-anchor="middle" fill="#222">Wetland</text>
<path d="M26.80,284.01 L28.00,284.30 L29.20,284.58 L30.40,284.87 L31.60,285.15 L32.80,285.44 L34.01,285.72 L35.21,286.00 L36.41,286.27 L37.61,286.55 L38.81,286.82 L40.01,287.09 L41.21,287.36 L42.41,287.63 L43.61,287.89 L44.81,288.14 L46.01,288.40 L47.21,288.65 L48.42,288.89 L49.62,289.13 L50.82,289.37 L52.02,289.61 L53.22,289.84 L54.42,290.08 L55.62,290.30 L56.82,290.53 L58.02,290.76 L59.22,290.98 L60.42,291.20 L61.62,291.43 L62.83,291.65 L64.03,291.87 L65.23,292.09 L66.43,292.31 L67.63,292.53 L68.83,292.76 L70.03,292.99 L71.23,293.23 L72.43,293.47 L73.63,293.72 L74.83,293.98 L76.03,294.25 L77.24,294.53 L78.44,294.81 L79.64,295.11 L80.84,295.43 L82.04,295.75 L83.24,296.09 L84.44,296.45 L85.64,296.82 L86.84,297.21 L88.04,297.61 L89.24,298.03 L90.44,298.47 L91.65,298.92 L92.85,299.40 L94.05,299.90 L95.25,300.41 L96.45,300.95 L97.65,301.51 L98.85,302.09 L100.05,302.70 L101.25,303.32 L102.45,303.97 L103.65,304.64 L104.85,305.32 L106.06,306.03 L107.26,306.76 L108.46,307.50 L109.66,308.26 L110.86,309.04 L112.06,309.84 L113.26,310.65 L114.46,311.48 L115.66,312.32 L116.86,313.18 L118.06,314.04 L119.26,314.93 L120.47,315.82 L121.67,316.72 L122.87,317.63 L124.07,318.55 L125.27,319.47 L126.47,320.40 L127.67,321.33 L128.87,322.26 L130.07,323.19 L131.27,324.13 L132.47,325.06 L133.67,325.99 L134.88,326.91 L136.08,327.83 L137.28,328.75 L138.48,329.66 L139.68,330.57 L140.88,331.47 L142.08,332.37 L143.28,333.26 L144.48,334.14 L145.68,335.02 L146.88,335.90 L148.08,336.77 L149.29,337.63 L150.49,338.49 L151.69,339.34 L152.89,340.18 L154.09,341.02 L155.29,341.85 L156.49,342.68 L157.69,343.50 L158.89,344.32 L160.09,345.14 L161.29,345.95 L162.49,346.76 L163.70,347.56 L164.90,348.37 L166.10,349.17 L167.30,349.97 L168.50,350.77 L169.70,351.57" fill="none" stroke="#29a9d6" stroke-width="1.15" stroke-linejoin="round" stroke-linecap="butt"/>
<path d="M26.80,284.01 L28.00,284.24 L29.20,284.47 L30.40,284.70 L31.60,284.94 L32.80,285.17 L34.01,285.40 L35.21,285.63 L36.41,285.86 L37.61,286.09 L38.81,286.31 L40.01,286.54 L41.21,286.76 L42.41,286.98 L43.61,287.20 L44.81,287.42 L46.01,287.64 L47.21,287.85 L48.42,288.07 L49.62,288.28 L50.82,288.49 L52.02,288.70 L53.22,288.91 L54.42,289.11 L55.62,289.32 L56.82,289.53 L58.02,289.73 L59.22,289.94 L60.42,290.15 L61.62,290.35 L62.83,290.56 L64.03,290.77 L65.23,290.97 L66.43,291.18 L67.63,291.40 L68.83,291.61 L70.03,291.83 L71.23,292.05 L72.43,292.28 L73.63,292.51 L74.83,292.75 L76.03,292.99 L77.24,293.24 L78.44,293.50 L79.64,293.76 L80.84,294.03 L82.04,294.31 L83.24,294.60 L84.44,294.90 L85.64,295.20 L86.84,295.52 L88.04,295.84 L89.24,296.18 L90.44,296.53 L91.65,296.88 L92.85,297.25 L94.05,297.63 L95.25,298.02 L96.45,298.43 L97.65,298.84 L98.85,299.27 L100.05,299.71 L101.25,300.16 L102.45,300.63 L103.65,301.10 L104.85,301.59 L106.06,302.09 L107.26,302.60 L108.46,303.12 L109.66,303.65 L110.86,304.19 L112.06,304.74 L113.26,305.29 L114.46,305.86 L115.66,306.44 L116.86,307.03 L118.06,307.62 L119.26,308.22 L120.47,308.83 L121.67,309.45 L122.87,310.07 L124.07,310.69 L125.27,311.32 L126.47,311.96 L127.67,312.59 L128.87,313.23 L130.07,313.87 L131.27,314.51 L132.47,315.16 L133.67,315.80 L134.88,316.44 L136.08,317.08 L137.28,317.72 L138.48,318.36 L139.68,319.00 L140.88,319.64 L142.08,320.27 L143.28,320.90 L144.48,321.54 L145.68,322.17 L146.88,322.80 L148.08,323.42 L149.29,324.05 L150.49,324.67 L151.69,325.29 L152.89,325.91 L154.09,326.53 L155.29,327.14 L156.49,327.75 L157.69,328.37 L158.89,328.98 L160.09,329.58 L161.29,330.19 L162.49,330.80 L163.70,331.40 L164.90,332.01 L166.10,332.61 L167.30,333.22 L168.50,333.82 L169.70,334.42" fill="none" stroke="#fdb97c" stroke-width="1.15" stroke-linejoin="round" stroke-linecap="butt"/>
<path d="M26.80,284.04 L28.00,284.80 L29.20,285.55 L30.40,286.31 L31.60,287.06 L32.80,287.81 L34.01,288.56 L35.21,289.30 L36.41,290.03 L37.61,290.76 L38.81,291.48 L40.01,292.20 L41.21,292.90 L42.41,293.60 L43.61,294.28 L44.81,294.96 L46.01,295.62 L47.21,296.27 L48.42,296.90 L49.62,297.53 L50.82,298.14 L52.02,298.74 L53.22,299.33 L54.42,299.90 L55.62,300.46 L56.82,301.01 L58.02,301.54 L59.22,302.06 L60.42,302.57 L61.62,303.06 L62.83,303.53 L64.03,304.00 L65.23,304.45 L66.43,304.89 L67.63,305.32 L68.83,305.75 L70.03,306.17 L71.23,306.58 L72.43,307.00 L73.63,307.41 L74.83,307.83 L76.03,308.25 L77.24,308.67 L78.44,309.10 L79.64,309.54 L80.84,309.99 L82.04,310.45 L83.24,310.93 L84.44,311.42 L85.64,311.93 L86.84,312.45 L88.04,312.99 L89.24,313.55 L90.44,314.13 L91.65,314.73 L92.85,315.36 L94.05,316.01 L95.25,316.68 L96.45,317.38 L97.65,318.11 L98.85,318.87 L100.05,319.65 L101.25,320.47 L102.45,321.31 L103.65,322.17 L104.85,323.07 L106.06,323.98 L107.26,324.92 L108.46,325.88 L109.66,326.86 L110.86,327.85 L112.06,328.87 L113.26,329.90 L114.46,330.95 L115.66,332.01 L116.86,333.09 L118.06,334.18 L119.26,335.28 L120.47,336.39 L121.67,337.51 L122.87,338.63 L124.07,339.76 L125.27,340.89 L126.47,342.02 L127.67,343.15 L128.87,344.28 L130.07,345.41 L131.27,346.53 L132.47,347.65 L133.67,348.76 L134.88,349.86 L136.08,350.95 L137.28,352.04 L138.48,353.11 L139.68,354.17 L140.88,355.23 L142.08,356.28 L143.28,357.32 L144.48,358.35 L145.68,359.37 L146.88,360.39 L148.08,361.40 L149.29,362.40 L150.49,363.39 L151.69,364.37 L152.89,365.35 L154.09,366.33 L155.29,367.29 L156.49,368.25 L157.69,369.21 L158.89,370.16 L160.09,371.10 L161.29,372.05 L162.49,372.99 L163.70,373.92 L164.90,374.86 L166.10,375.79 L167.30,376.72 L168.50,377.65 L169.70,378.58" fill="none" stroke="#ff2b2b" stroke-width="1.15" stroke-linejoin="round" stroke-linecap="butt"/>
<rect x="202.40" y="272.70" width="142.60" height="114.50" fill="none" stroke="#8c8c8c" stroke-width="1"/>
<line x1="200.40" y1="272.70" x2="202.40" y2="272.70" stroke="#8c8c8c" stroke-width="0.8"/>
<text x="199.00" y="274.80" font-size="5.1" text-anchor="end" fill="#222">8,340</text>
<line x1="200.40" y1="295.60" x2="202.40" y2="295.60" stroke="#8c8c8c" stroke-width="0.8"/>
<text x="199.00" y="297.70" font-size="5.1" text-anchor="end" fill="#222">8,338</text>
<line x1="200.40" y1="318.50" x2="202.40" y2="318.50" stroke="#8c8c8c" stroke-width="0.8"/>
<text x="199.00" y="320.60" font-size="5.1" text-anchor="end" fill="#222">8,336</text>
<line x1="200.40" y1="341.40" x2="202.40" y2="341.40" stroke="#8c8c8c" stroke-width="0.8"/>
<text x="199.00" y="343.50" font-size="5.1" text-anchor="end" fill="#222">8,334</text>
<line x1="200.40" y1="364.30" x2="202.40" y2="364.30" stroke="#8c8c8c" stroke-width="0.8"/>
<text x="199.00" y="366.40" font-size="5.1" text-anchor="end" fill="#222">8,332</text>
<line x1="200.40" y1="387.20" x2="202.40" y2="387.20" stroke="#8c8c8c" stroke-width="0.8"/>
<text x="199.00" y="389.30" font-size="5.1" text-anchor="end" fill="#222">8,330</text>
<line x1="202.40" y1="387.20" x2="202.40" y2="389.20" stroke="#8c8c8c" stroke-width="0.8"/>
<text x="202.40" y="394.50" font-size="5.2" text-anchor="middle" fill="#222">2020</text>
<line x1="238.05" y1="387.20" x2="238.05" y2="389.20" stroke="#8c8c8c" stroke-width="0.8"/>
<text x="238.05" y="394.50" font-size="5.2" text-anchor="middle" fill="#222">2030</text>
<line x1="273.70" y1="387.20" x2="273.70" y2="389.20" stroke="#8c8c8c" stroke-width="0.8"/>
<text x="273.70" y="394.50" font-size="5.2" text-anchor="middle" fill="#222">2040</text>
<line x1="309.35" y1="387.20" x2="309.35" y2="389.20" stroke="#8c8c8c" stroke-width="0.8"/>
<text x="309.35" y="394.50" font-size="5.2" text-anchor="middle" fill="#222">2050</text>
<line x1="345.00" y1="387.20" x2="345.00" y2="389.20" stroke="#8c8c8c" stroke-width="0.8"/>
<text x="345.00" y="394.50" font-size="5.2" text-anchor="middle" fill="#222">2060</text>
<text x="273.70" y="402.20" font-size="6.5" text-anchor="middle" fill="#222">Year</text>
<text transform="translate(183.80,329.95) rotate(-90)" font-size="6.3" text-anchor="middle" fill="#222">Area (km<tspan font-size="4" dy="-2.2">2</tspan><tspan dy="2.2">)</tspan></text>
<text x="274.80" y="280.80" font-size="7" text-anchor="middle" fill="#222">Water</text>
<path d="M202.40,286.90 L203.60,288.37 L204.80,289.85 L205.99,291.32 L207.19,292.81 L208.39,294.29 L209.59,295.78 L210.79,297.28 L211.99,298.79 L213.18,300.31 L214.38,301.84 L215.58,303.38 L216.78,304.94 L217.98,306.51 L219.18,308.10 L220.37,309.70 L221.57,311.32 L222.77,312.95 L223.97,314.58 L225.17,316.19 L226.37,317.77 L227.56,319.32 L228.76,320.83 L229.96,322.28 L231.16,323.66 L232.36,324.97 L233.56,326.19 L234.75,327.31 L235.95,328.32 L237.15,329.21 L238.35,329.98 L239.55,330.61 L240.75,331.11 L241.94,331.50 L243.14,331.78 L244.34,331.96 L245.54,332.04 L246.74,332.05 L247.94,331.98 L249.13,331.85 L250.33,331.66 L251.53,331.42 L252.73,331.14 L253.93,330.84 L255.13,330.51 L256.32,330.17 L257.52,329.83 L258.72,329.47 L259.92,329.12 L261.12,328.76 L262.32,328.40 L263.51,328.03 L264.71,327.67 L265.91,327.30 L267.11,326.94 L268.31,326.58 L269.51,326.22 L270.70,325.86 L271.90,325.51 L273.10,325.17 L274.30,324.83 L275.50,324.50 L276.70,324.18 L277.89,323.86 L279.09,323.55 L280.29,323.24 L281.49,322.94 L282.69,322.65 L283.89,322.36 L285.08,322.07 L286.28,321.79 L287.48,321.51 L288.68,321.24 L289.88,320.97 L291.08,320.70 L292.27,320.43 L293.47,320.17 L294.67,319.91 L295.87,319.66 L297.07,319.40 L298.27,319.15 L299.46,318.90 L300.66,318.66 L301.86,318.42 L303.06,318.18 L304.26,317.95 L305.46,317.72 L306.65,317.49 L307.85,317.27 L309.05,317.05 L310.25,316.84 L311.45,316.63 L312.65,316.43 L313.84,316.23 L315.04,316.03 L316.24,315.84 L317.44,315.66 L318.64,315.47 L319.84,315.30 L321.03,315.12 L322.23,314.95 L323.43,314.79 L324.63,314.63 L325.83,314.47 L327.03,314.32 L328.22,314.17 L329.42,314.03 L330.62,313.89 L331.82,313.75 L333.02,313.62 L334.22,313.49 L335.41,313.36 L336.61,313.24 L337.81,313.11 L339.01,312.99 L340.21,312.87 L341.41,312.75 L342.60,312.63 L343.80,312.52 L345.00,312.40" fill="none" stroke="#29a9d6" stroke-width="1.15" stroke-linejoin="round" stroke-linecap="butt"/>
<path d="M202.40,286.90 L203.60,288.40 L204.80,289.90 L205.99,291.40 L207.19,292.91 L208.39,294.42 L209.59,295.94 L210.79,297.46 L211.99,298.99 L213.18,300.53 L214.38,302.08 L215.58,303.64 L216.78,305.21 L217.98,306.79 L219.18,308.39 L220.37,310.00 L221.57,311.63 L222.77,313.26 L223.97,314.89 L225.17,316.51 L226.37,318.11 L227.56,319.68 L228.76,321.21 L229.96,322.69 L231.16,324.12 L232.36,325.48 L233.56,326.77 L234.75,327.98 L235.95,329.09 L237.15,330.11 L238.35,331.02 L239.55,331.81 L240.75,332.50 L241.94,333.09 L243.14,333.59 L244.34,334.00 L245.54,334.34 L246.74,334.61 L247.94,334.82 L249.13,334.97 L250.33,335.08 L251.53,335.15 L252.73,335.19 L253.93,335.21 L255.13,335.21 L256.32,335.20 L257.52,335.18 L258.72,335.17 L259.92,335.15 L261.12,335.13 L262.32,335.11 L263.51,335.09 L264.71,335.07 L265.91,335.06 L267.11,335.05 L268.31,335.05 L269.51,335.04 L270.70,335.05 L271.90,335.06 L273.10,335.09 L274.30,335.12 L275.50,335.16 L276.70,335.21 L277.89,335.26 L279.09,335.33 L280.29,335.41 L281.49,335.49 L282.69,335.58 L283.89,335.68 L285.08,335.79 L286.28,335.91 L287.48,336.03 L288.68,336.16 L289.88,336.30 L291.08,336.44 L292.27,336.60 L293.47,336.75 L294.67,336.92 L295.87,337.10 L297.07,337.29 L298.27,337.50 L299.46,337.72 L300.66,337.95 L301.86,338.21 L303.06,338.48 L304.26,338.77 L305.46,339.09 L306.65,339.43 L307.85,339.80 L309.05,340.20 L310.25,340.62 L311.45,341.07 L312.65,341.55 L313.84,342.05 L315.04,342.58 L316.24,343.12 L317.44,343.69 L318.64,344.27 L319.84,344.87 L321.03,345.49 L322.23,346.11 L323.43,346.75 L324.63,347.40 L325.83,348.06 L327.03,348.72 L328.22,349.38 L329.42,350.05 L330.62,350.73 L331.82,351.40 L333.02,352.09 L334.22,352.77 L335.41,353.45 L336.61,354.14 L337.81,354.83 L339.01,355.52 L340.21,356.22 L341.41,356.91 L342.60,357.61 L343.80,358.30 L345.00,359.00" fill="none" stroke="#fdb97c" stroke-width="1.15" stroke-linejoin="round" stroke-linecap="butt"/>
<path d="M202.40,286.90 L203.60,288.54 L204.80,290.19 L205.99,291.84 L207.19,293.49 L208.39,295.14 L209.59,296.79 L210.79,298.45 L211.99,300.12 L213.18,301.80 L214.38,303.48 L215.58,305.16 L216.78,306.86 L217.98,308.57 L219.18,310.29 L220.37,312.02 L221.57,313.76 L222.77,315.50 L223.97,317.23 L225.17,318.95 L226.37,320.65 L227.56,322.31 L228.76,323.94 L229.96,325.51 L231.16,327.03 L232.36,328.48 L233.56,329.86 L234.75,331.15 L235.95,332.35 L237.15,333.45 L238.35,334.44 L239.55,335.31 L240.75,336.08 L241.94,336.75 L243.14,337.32 L244.34,337.80 L245.54,338.20 L246.74,338.52 L247.94,338.77 L249.13,338.95 L250.33,339.08 L251.53,339.16 L252.73,339.19 L253.93,339.18 L255.13,339.14 L256.32,339.07 L257.52,338.98 L258.72,338.88 L259.92,338.76 L261.12,338.64 L262.32,338.52 L263.51,338.40 L264.71,338.28 L265.91,338.18 L267.11,338.10 L268.31,338.05 L269.51,338.02 L270.70,338.02 L271.90,338.06 L273.10,338.14 L274.30,338.27 L275.50,338.45 L276.70,338.67 L277.89,338.94 L279.09,339.25 L280.29,339.60 L281.49,339.98 L282.69,340.40 L283.89,340.85 L285.08,341.33 L286.28,341.84 L287.48,342.37 L288.68,342.92 L289.88,343.49 L291.08,344.08 L292.27,344.68 L293.47,345.29 L294.67,345.92 L295.87,346.56 L297.07,347.21 L298.27,347.86 L299.46,348.52 L300.66,349.19 L301.86,349.86 L303.06,350.54 L304.26,351.22 L305.46,351.90 L306.65,352.58 L307.85,353.26 L309.05,353.93 L310.25,354.60 L311.45,355.27 L312.65,355.94 L313.84,356.61 L315.04,357.27 L316.24,357.93 L317.44,358.60 L318.64,359.26 L319.84,359.93 L321.03,360.60 L322.23,361.27 L323.43,361.95 L324.63,362.63 L325.83,363.32 L327.03,364.01 L328.22,364.71 L329.42,365.42 L330.62,366.13 L331.82,366.85 L333.02,367.58 L334.22,368.31 L335.41,369.04 L336.61,369.78 L337.81,370.52 L339.01,371.26 L340.21,372.00 L341.41,372.75 L342.60,373.50 L343.80,374.25 L345.00,375.00" fill="none" stroke="#ff2b2b" stroke-width="1.15" stroke-linejoin="round" stroke-linecap="butt"/>
<rect x="26.80" y="406.70" width="142.90" height="114.90" fill="none" stroke="#8c8c8c" stroke-width="1"/>
<line x1="24.80" y1="406.70" x2="26.80" y2="406.70" stroke="#8c8c8c" stroke-width="0.8"/>
<text x="23.40" y="408.80" font-size="5.1" text-anchor="end" fill="#222">26,000</text>
<line x1="24.80" y1="425.85" x2="26.80" y2="425.85" stroke="#8c8c8c" stroke-width="0.8"/>
<text x="23.40" y="427.95" font-size="5.1" text-anchor="end" fill="#222">24,000</text>
<line x1="24.80" y1="445.00" x2="26.80" y2="445.00" stroke="#8c8c8c" stroke-width="0.8"/>
<text x="23.40" y="447.10" font-size="5.1" text-anchor="end" fill="#222">22,000</text>
<line x1="24.80" y1="464.15" x2="26.80" y2="464.15" stroke="#8c8c8c" stroke-width="0.8"/>
<text x="23.40" y="466.25" font-size="5.1" text-anchor="end" fill="#222">20,000</text>
<line x1="24.80" y1="483.30" x2="26.80" y2="483.30" stroke="#8c8c8c" stroke-width="0.8"/>
<text x="23.40" y="485.40" font-size="5.1" text-anchor="end" fill="#222">18,000</text>
<line x1="24.80" y1="502.45" x2="26.80" y2="502.45" stroke="#8c8c8c" stroke-width="0.8"/>
<text x="23.40" y="504.55" font-size="5.1" text-anchor="end" fill="#222">16,000</text>
<line x1="24.80" y1="521.60" x2="26.80" y2="521.60" stroke="#8c8c8c" stroke-width="0.8"/>
<text x="23.40" y="523.70" font-size="5.1" text-anchor="end" fill="#222">14,000</text>
<line x1="26.80" y1="521.60" x2="26.80" y2="523.60" stroke="#8c8c8c" stroke-width="0.8"/>
<text x="26.80" y="528.90" font-size="5.2" text-anchor="middle" fill="#222">2020</text>
<line x1="62.52" y1="521.60" x2="62.52" y2="523.60" stroke="#8c8c8c" stroke-width="0.8"/>
<text x="62.52" y="528.90" font-size="5.2" text-anchor="middle" fill="#222">2030</text>
<line x1="98.25" y1="521.60" x2="98.25" y2="523.60" stroke="#8c8c8c" stroke-width="0.8"/>
<text x="98.25" y="528.90" font-size="5.2" text-anchor="middle" fill="#222">2040</text>
<line x1="133.97" y1="521.60" x2="133.97" y2="523.60" stroke="#8c8c8c" stroke-width="0.8"/>
<text x="133.97" y="528.90" font-size="5.2" text-anchor="middle" fill="#222">2050</text>
<line x1="169.70" y1="521.60" x2="169.70" y2="523.60" stroke="#8c8c8c" stroke-width="0.8"/>
<text x="169.70" y="528.90" font-size="5.2" text-anchor="middle" fill="#222">2060</text>
<text x="98.25" y="536.60" font-size="6.5" text-anchor="middle" fill="#222">Year</text>
<text transform="translate(7.20,464.15) rotate(-90)" font-size="6.3" text-anchor="middle" fill="#222">Area (km<tspan font-size="4" dy="-2.2">2</tspan><tspan dy="2.2">)</tspan></text>
<text x="100.90" y="414.80" font-size="7" text-anchor="middle" fill="#222">Artificial surface</text>
<path d="M26.80,507.71 L28.00,507.59 L29.20,507.48 L30.40,507.36 L31.60,507.24 L32.80,507.12 L34.01,507.00 L35.21,506.88 L36.41,506.75 L37.61,506.63 L38.81,506.49 L40.01,506.36 L41.21,506.22 L42.41,506.07 L43.61,505.93 L44.81,505.77 L46.01,505.61 L47.21,505.45 L48.42,505.28 L49.62,505.10 L50.82,504.92 L52.02,504.73 L53.22,504.54 L54.42,504.34 L55.62,504.13 L56.82,503.92 L58.02,503.71 L59.22,503.48 L60.42,503.26 L61.62,503.02 L62.83,502.78 L64.03,502.53 L65.23,502.28 L66.43,502.03 L67.63,501.76 L68.83,501.50 L70.03,501.23 L71.23,500.96 L72.43,500.68 L73.63,500.40 L74.83,500.12 L76.03,499.84 L77.24,499.56 L78.44,499.27 L79.64,498.99 L80.84,498.71 L82.04,498.42 L83.24,498.14 L84.44,497.86 L85.64,497.58 L86.84,497.29 L88.04,497.01 L89.24,496.72 L90.44,496.44 L91.65,496.15 L92.85,495.86 L94.05,495.57 L95.25,495.28 L96.45,494.99 L97.65,494.69 L98.85,494.39 L100.05,494.09 L101.25,493.79 L102.45,493.48 L103.65,493.17 L104.85,492.86 L106.06,492.54 L107.26,492.23 L108.46,491.90 L109.66,491.58 L110.86,491.26 L112.06,490.93 L113.26,490.59 L114.46,490.26 L115.66,489.92 L116.86,489.58 L118.06,489.24 L119.26,488.89 L120.47,488.54 L121.67,488.19 L122.87,487.83 L124.07,487.47 L125.27,487.11 L126.47,486.75 L127.67,486.38 L128.87,486.01 L130.07,485.63 L131.27,485.26 L132.47,484.87 L133.67,484.49 L134.88,484.10 L136.08,483.71 L137.28,483.32 L138.48,482.92 L139.68,482.52 L140.88,482.11 L142.08,481.70 L143.28,481.28 L144.48,480.86 L145.68,480.43 L146.88,480.00 L148.08,479.56 L149.29,479.11 L150.49,478.65 L151.69,478.19 L152.89,477.72 L154.09,477.24 L155.29,476.76 L156.49,476.27 L157.69,475.78 L158.89,475.28 L160.09,474.77 L161.29,474.26 L162.49,473.75 L163.70,473.23 L164.90,472.72 L166.10,472.20 L167.30,471.67 L168.50,471.15 L169.70,470.63" fill="none" stroke="#29a9d6" stroke-width="1.15" stroke-linejoin="round" stroke-linecap="butt"/>
<path d="M26.80,507.71 L28.00,507.51 L29.20,507.31 L30.40,507.11 L31.60,506.91 L32.80,506.71 L34.01,506.51 L35.21,506.30 L36.41,506.09 L37.61,505.88 L38.81,505.66 L40.01,505.43 L41.21,505.20 L42.41,504.97 L43.61,504.73 L44.81,504.48 L46.01,504.23 L47.21,503.97 L48.42,503.70 L49.62,503.42 L50.82,503.14 L52.02,502.86 L53.22,502.56 L54.42,502.26 L55.62,501.95 L56.82,501.64 L58.02,501.32 L59.22,500.99 L60.42,500.66 L61.62,500.32 L62.83,499.98 L64.03,499.63 L65.23,499.28 L66.43,498.92 L67.63,498.56 L68.83,498.19 L70.03,497.82 L71.23,497.45 L72.43,497.07 L73.63,496.70 L74.83,496.32 L76.03,495.94 L77.24,495.56 L78.44,495.19 L79.64,494.81 L80.84,494.43 L82.04,494.06 L83.24,493.69 L84.44,493.31 L85.64,492.94 L86.84,492.57 L88.04,492.20 L89.24,491.83 L90.44,491.45 L91.65,491.08 L92.85,490.70 L94.05,490.33 L95.25,489.94 L96.45,489.56 L97.65,489.18 L98.85,488.79 L100.05,488.39 L101.25,488.00 L102.45,487.60 L103.65,487.19 L104.85,486.78 L106.06,486.37 L107.26,485.95 L108.46,485.52 L109.66,485.09 L110.86,484.65 L112.06,484.21 L113.26,483.76 L114.46,483.30 L115.66,482.84 L116.86,482.36 L118.06,481.88 L119.26,481.39 L120.47,480.90 L121.67,480.40 L122.87,479.89 L124.07,479.37 L125.27,478.85 L126.47,478.32 L127.67,477.78 L128.87,477.24 L130.07,476.69 L131.27,476.14 L132.47,475.58 L133.67,475.01 L134.88,474.44 L136.08,473.86 L137.28,473.28 L138.48,472.69 L139.68,472.10 L140.88,471.50 L142.08,470.89 L143.28,470.28 L144.48,469.66 L145.68,469.03 L146.88,468.40 L148.08,467.77 L149.29,467.12 L150.49,466.47 L151.69,465.82 L152.89,465.15 L154.09,464.48 L155.29,463.81 L156.49,463.13 L157.69,462.44 L158.89,461.75 L160.09,461.06 L161.29,460.36 L162.49,459.66 L163.70,458.96 L164.90,458.26 L166.10,457.55 L167.30,456.84 L168.50,456.13 L169.70,455.42" fill="none" stroke="#fdb97c" stroke-width="1.15" stroke-linejoin="round" stroke-linecap="butt"/>
<path d="M26.80,507.71 L28.00,507.37 L29.20,507.03 L30.40,506.69 L31.60,506.35 L32.80,506.00 L34.01,505.65 L35.21,505.30 L36.41,504.94 L37.61,504.57 L38.81,504.20 L40.01,503.82 L41.21,503.43 L42.41,503.03 L43.61,502.62 L44.81,502.20 L46.01,501.76 L47.21,501.32 L48.42,500.86 L49.62,500.39 L50.82,499.91 L52.02,499.42 L53.22,498.91 L54.42,498.39 L55.62,497.85 L56.82,497.30 L58.02,496.73 L59.22,496.15 L60.42,495.55 L61.62,494.94 L62.83,494.31 L64.03,493.67 L65.23,493.01 L66.43,492.33 L67.63,491.65 L68.83,490.95 L70.03,490.24 L71.23,489.52 L72.43,488.78 L73.63,488.05 L74.83,487.30 L76.03,486.55 L77.24,485.79 L78.44,485.03 L79.64,484.26 L80.84,483.50 L82.04,482.73 L83.24,481.95 L84.44,481.18 L85.64,480.40 L86.84,479.63 L88.04,478.84 L89.24,478.06 L90.44,477.27 L91.65,476.48 L92.85,475.69 L94.05,474.89 L95.25,474.08 L96.45,473.28 L97.65,472.47 L98.85,471.65 L100.05,470.83 L101.25,470.01 L102.45,469.18 L103.65,468.34 L104.85,467.49 L106.06,466.64 L107.26,465.77 L108.46,464.90 L109.66,464.02 L110.86,463.12 L112.06,462.22 L113.26,461.30 L114.46,460.37 L115.66,459.42 L116.86,458.46 L118.06,457.49 L119.26,456.50 L120.47,455.50 L121.67,454.49 L122.87,453.47 L124.07,452.43 L125.27,451.39 L126.47,450.33 L127.67,449.27 L128.87,448.20 L130.07,447.12 L131.27,446.03 L132.47,444.94 L133.67,443.84 L134.88,442.74 L136.08,441.63 L137.28,440.52 L138.48,439.41 L139.68,438.29 L140.88,437.17 L142.08,436.04 L143.28,434.92 L144.48,433.79 L145.68,432.66 L146.88,431.54 L148.08,430.41 L149.29,429.28 L150.49,428.15 L151.69,427.03 L152.89,425.90 L154.09,424.78 L155.29,423.66 L156.49,422.54 L157.69,421.42 L158.89,420.31 L160.09,419.19 L161.29,418.08 L162.49,416.96 L163.70,415.85 L164.90,414.74 L166.10,413.63 L167.30,412.52 L168.50,411.40 L169.70,410.29" fill="none" stroke="#ff2b2b" stroke-width="1.15" stroke-linejoin="round" stroke-linecap="butt"/>
<rect x="202.40" y="406.70" width="142.60" height="114.90" fill="none" stroke="#8c8c8c" stroke-width="1"/>
<line x1="200.40" y1="406.70" x2="202.40" y2="406.70" stroke="#8c8c8c" stroke-width="0.8"/>
<text x="199.00" y="408.80" font-size="5.1" text-anchor="end" fill="#222">19.0</text>
<line x1="200.40" y1="429.68" x2="202.40" y2="429.68" stroke="#8c8c8c" stroke-width="0.8"/>
<text x="199.00" y="431.78" font-size="5.1" text-anchor="end" fill="#222">18.5</text>
<line x1="200.40" y1="452.66" x2="202.40" y2="452.66" stroke="#8c8c8c" stroke-width="0.8"/>
<text x="199.00" y="454.76" font-size="5.1" text-anchor="end" fill="#222">18.0</text>
<line x1="200.40" y1="475.64" x2="202.40" y2="475.64" stroke="#8c8c8c" stroke-width="0.8"/>
<text x="199.00" y="477.74" font-size="5.1" text-anchor="end" fill="#222">17.5</text>
<line x1="200.40" y1="498.62" x2="202.40" y2="498.62" stroke="#8c8c8c" stroke-width="0.8"/>
<text x="199.00" y="500.72" font-size="5.1" text-anchor="end" fill="#222">17.0</text>
<line x1="200.40" y1="521.60" x2="202.40" y2="521.60" stroke="#8c8c8c" stroke-width="0.8"/>
<text x="199.00" y="523.70" font-size="5.1" text-anchor="end" fill="#222">16.5</text>
<line x1="202.40" y1="521.60" x2="202.40" y2="523.60" stroke="#8c8c8c" stroke-width="0.8"/>
<text x="202.40" y="528.90" font-size="5.2" text-anchor="middle" fill="#222">2020</text>
<line x1="238.05" y1="521.60" x2="238.05" y2="523.60" stroke="#8c8c8c" stroke-width="0.8"/>
<text x="238.05" y="528.90" font-size="5.2" text-anchor="middle" fill="#222">2030</text>
<line x1="273.70" y1="521.60" x2="273.70" y2="523.60" stroke="#8c8c8c" stroke-width="0.8"/>
<text x="273.70" y="528.90" font-size="5.2" text-anchor="middle" fill="#222">2040</text>
<line x1="309.35" y1="521.60" x2="309.35" y2="523.60" stroke="#8c8c8c" stroke-width="0.8"/>
<text x="309.35" y="528.90" font-size="5.2" text-anchor="middle" fill="#222">2050</text>
<line x1="345.00" y1="521.60" x2="345.00" y2="523.60" stroke="#8c8c8c" stroke-width="0.8"/>
<text x="345.00" y="528.90" font-size="5.2" text-anchor="middle" fill="#222">2060</text>
<text x="273.70" y="536.60" font-size="6.5" text-anchor="middle" fill="#222">Year</text>
<text transform="translate(184.40,464.15) rotate(-90)" font-size="6.3" text-anchor="middle" fill="#222">Area (km<tspan font-size="4" dy="-2.2">2</tspan><tspan dy="2.2">)</tspan></text>
<text x="275.50" y="414.80" font-size="7" text-anchor="middle" fill="#222">Other</text>
<path d="M202.40,419.50 L203.60,420.09 L204.80,420.69 L205.99,421.28 L207.19,421.88 L208.39,422.48 L209.59,423.09 L210.79,423.69 L211.99,424.31 L213.18,424.92 L214.38,425.54 L215.58,426.17 L216.78,426.81 L217.98,427.45 L219.18,428.10 L220.37,428.75 L221.57,429.42 L222.77,430.09 L223.97,430.76 L225.17,431.43 L226.37,432.10 L227.56,432.76 L228.76,433.41 L229.96,434.05 L231.16,434.67 L232.36,435.27 L233.56,435.85 L234.75,436.40 L235.95,436.92 L237.15,437.41 L238.35,437.86 L239.55,438.28 L240.75,438.65 L241.94,439.00 L243.14,439.31 L244.34,439.59 L245.54,439.84 L246.74,440.06 L247.94,440.25 L249.13,440.41 L250.33,440.55 L251.53,440.67 L252.73,440.76 L253.93,440.83 L255.13,440.89 L256.32,440.92 L257.52,440.94 L258.72,440.95 L259.92,440.94 L261.12,440.92 L262.32,440.90 L263.51,440.87 L264.71,440.84 L265.91,440.81 L267.11,440.78 L268.31,440.76 L269.51,440.74 L270.70,440.73 L271.90,440.74 L273.10,440.75 L274.30,440.79 L275.50,440.83 L276.70,440.90 L277.89,440.97 L279.09,441.06 L280.29,441.16 L281.49,441.27 L282.69,441.39 L283.89,441.51 L285.08,441.64 L286.28,441.77 L287.48,441.91 L288.68,442.04 L289.88,442.18 L291.08,442.31 L292.27,442.44 L293.47,442.56 L294.67,442.69 L295.87,442.80 L297.07,442.92 L298.27,443.03 L299.46,443.13 L300.66,443.23 L301.86,443.33 L303.06,443.42 L304.26,443.52 L305.46,443.60 L306.65,443.68 L307.85,443.76 L309.05,443.84 L310.25,443.91 L311.45,443.98 L312.65,444.04 L313.84,444.10 L315.04,444.16 L316.24,444.22 L317.44,444.28 L318.64,444.34 L319.84,444.39 L321.03,444.45 L322.23,444.51 L323.43,444.57 L324.63,444.63 L325.83,444.69 L327.03,444.76 L328.22,444.83 L329.42,444.90 L330.62,444.97 L331.82,445.05 L333.02,445.13 L334.22,445.21 L335.41,445.29 L336.61,445.38 L337.81,445.46 L339.01,445.55 L340.21,445.64 L341.41,445.73 L342.60,445.82 L343.80,445.91 L345.00,446.00" fill="none" stroke="#29a9d6" stroke-width="1.15" stroke-linejoin="round" stroke-linecap="butt"/>
<path d="M202.40,419.50 L203.60,420.00 L204.80,420.51 L205.99,421.01 L207.19,421.52 L208.39,422.03 L209.59,422.53 L210.79,423.04 L211.99,423.55 L213.18,424.06 L214.38,424.57 L215.58,425.09 L216.78,425.60 L217.98,426.12 L219.18,426.64 L220.37,427.16 L221.57,427.68 L222.77,428.21 L223.97,428.73 L225.17,429.25 L226.37,429.76 L227.56,430.27 L228.76,430.77 L229.96,431.26 L231.16,431.73 L232.36,432.20 L233.56,432.64 L234.75,433.07 L235.95,433.48 L237.15,433.86 L238.35,434.23 L239.55,434.57 L240.75,434.88 L241.94,435.18 L243.14,435.46 L244.34,435.72 L245.54,435.97 L246.74,436.20 L247.94,436.42 L249.13,436.63 L250.33,436.84 L251.53,437.04 L252.73,437.23 L253.93,437.43 L255.13,437.62 L256.32,437.81 L257.52,438.01 L258.72,438.21 L259.92,438.42 L261.12,438.63 L262.32,438.84 L263.51,439.06 L264.71,439.28 L265.91,439.51 L267.11,439.75 L268.31,439.99 L269.51,440.24 L270.70,440.50 L271.90,440.76 L273.10,441.04 L274.30,441.32 L275.50,441.61 L276.70,441.91 L277.89,442.22 L279.09,442.53 L280.29,442.85 L281.49,443.18 L282.69,443.52 L283.89,443.86 L285.08,444.21 L286.28,444.56 L287.48,444.92 L288.68,445.28 L289.88,445.65 L291.08,446.02 L292.27,446.40 L293.47,446.77 L294.67,447.16 L295.87,447.54 L297.07,447.93 L298.27,448.32 L299.46,448.72 L300.66,449.12 L301.86,449.52 L303.06,449.93 L304.26,450.34 L305.46,450.75 L306.65,451.17 L307.85,451.59 L309.05,452.01 L310.25,452.44 L311.45,452.88 L312.65,453.31 L313.84,453.75 L315.04,454.19 L316.24,454.64 L317.44,455.08 L318.64,455.53 L319.84,455.98 L321.03,456.44 L322.23,456.89 L323.43,457.35 L324.63,457.81 L325.83,458.27 L327.03,458.73 L328.22,459.19 L329.42,459.65 L330.62,460.11 L331.82,460.58 L333.02,461.04 L334.22,461.51 L335.41,461.97 L336.61,462.44 L337.81,462.90 L339.01,463.37 L340.21,463.83 L341.41,464.30 L342.60,464.77 L343.80,465.23 L345.00,465.70" fill="none" stroke="#fdb97c" stroke-width="1.15" stroke-linejoin="round" stroke-linecap="butt"/>
<path d="M202.40,419.50 L203.60,420.09 L204.80,420.68 L205.99,421.28 L207.19,421.88 L208.39,422.47 L209.59,423.08 L210.79,423.68 L211.99,424.29 L213.18,424.90 L214.38,425.52 L215.58,426.14 L216.78,426.77 L217.98,427.40 L219.18,428.04 L220.37,428.69 L221.57,429.35 L222.77,430.01 L223.97,430.67 L225.17,431.34 L226.37,432.00 L227.56,432.65 L228.76,433.30 L229.96,433.93 L231.16,434.55 L232.36,435.16 L233.56,435.75 L234.75,436.31 L235.95,436.85 L237.15,437.37 L238.35,437.85 L239.55,438.31 L240.75,438.73 L241.94,439.13 L243.14,439.51 L244.34,439.86 L245.54,440.19 L246.74,440.50 L247.94,440.80 L249.13,441.09 L250.33,441.36 L251.53,441.62 L252.73,441.88 L253.93,442.12 L255.13,442.37 L256.32,442.62 L257.52,442.86 L258.72,443.11 L259.92,443.36 L261.12,443.62 L262.32,443.89 L263.51,444.16 L264.71,444.45 L265.91,444.75 L267.11,445.07 L268.31,445.41 L269.51,445.76 L270.70,446.14 L271.90,446.53 L273.10,446.96 L274.30,447.41 L275.50,447.89 L276.70,448.39 L277.89,448.93 L279.09,449.49 L280.29,450.08 L281.49,450.70 L282.69,451.34 L283.89,452.02 L285.08,452.72 L286.28,453.45 L287.48,454.21 L288.68,454.99 L289.88,455.81 L291.08,456.65 L292.27,457.52 L293.47,458.42 L294.67,459.34 L295.87,460.29 L297.07,461.26 L298.27,462.25 L299.46,463.26 L300.66,464.29 L301.86,465.33 L303.06,466.38 L304.26,467.45 L305.46,468.53 L306.65,469.61 L307.85,470.71 L309.05,471.80 L310.25,472.90 L311.45,474.01 L312.65,475.11 L313.84,476.22 L315.04,477.33 L316.24,478.44 L317.44,479.55 L318.64,480.66 L319.84,481.77 L321.03,482.88 L322.23,483.99 L323.43,485.09 L324.63,486.20 L325.83,487.29 L327.03,488.39 L328.22,489.48 L329.42,490.57 L330.62,491.66 L331.82,492.74 L333.02,493.82 L334.22,494.89 L335.41,495.97 L336.61,497.04 L337.81,498.11 L339.01,499.18 L340.21,500.24 L341.41,501.31 L342.60,502.38 L343.80,503.44 L345.00,504.50" fill="none" stroke="#ff2b2b" stroke-width="1.15" stroke-linejoin="round" stroke-linecap="butt"/>
<line x1="128" y1="543.5" x2="144" y2="543.5" stroke="#29a9d6" stroke-width="1.2"/>
<text x="145" y="545.9" font-size="7" fill="#222">SSP126</text>
<line x1="168.5" y1="543.5" x2="184" y2="543.5" stroke="#fdb97c" stroke-width="1.2"/>
<text x="186" y="545.9" font-size="7" fill="#222">SSP245</text>
<line x1="210" y1="543.5" x2="226" y2="543.5" stroke="#ff2b2b" stroke-width="1.2"/>
<text x="227.5" y="545.9" font-size="7" fill="#222">SSP585</text>
</g></svg></body></html>
